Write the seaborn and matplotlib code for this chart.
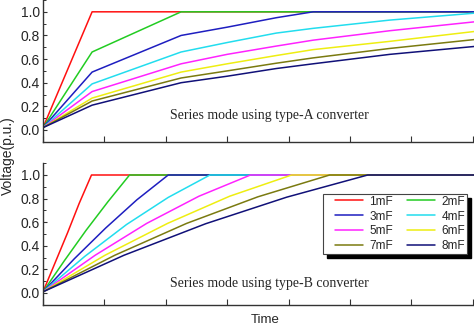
import numpy as np
import pandas as pd
import matplotlib
matplotlib.use("Agg")
import matplotlib.pyplot as plt
from matplotlib.patches import Rectangle
from matplotlib.ticker import MultipleLocator, FormatStrFormatter
import seaborn as sns

# ---------------- data ----------------
labels = ["1mF", "2mF", "3mF", "4mF", "5mF", "6mF", "7mF", "8mF"]
colors = ["#FF1010", "#22CC22", "#1E1EC0", "#22DDEE", "#FF22FF", "#EEEE11", "#7A7A10", "#101078"]

# type-A (top): common time grid
time_a = [0.0, 0.8, 2.25, 3.0, 3.8, 4.4, 5.65, 7.3]
a_1mF = [0.02, 1.00, 1.00, 1.00, 1.00, 1.00, 1.00, 1.00]
a_2mF = [0.02, 0.66, 1.00, 1.00, 1.00, 1.00, 1.00, 1.00]
a_3mF = [0.02, 0.49, 0.80, 0.87, 0.95, 1.00, 1.00, 1.00]
a_4mF = [0.02, 0.39, 0.66, 0.74, 0.82, 0.86, 0.93, 1.00]
a_5mF = [0.02, 0.325, 0.56, 0.64, 0.71, 0.76, 0.84, 0.93]
a_6mF = [0.02, 0.27, 0.49, 0.56, 0.63, 0.68, 0.75, 0.85]
a_7mF = [0.02, 0.245, 0.44, 0.50, 0.565, 0.61, 0.69, 0.78]
a_8mF = [0.02, 0.21, 0.40, 0.455, 0.52, 0.56, 0.64, 0.72]
series_a = [a_1mF, a_2mF, a_3mF, a_4mF, a_5mF, a_6mF, a_7mF, a_8mF]

# type-B (bottom): per-series time points and values
tb_1mF = [0.0, 0.20, 0.40, 0.59, 0.79, 7.3]
tb_2mF = [0.0, 0.35, 0.70, 1.06, 1.41, 7.3]
tb_3mF = [0.0, 0.51, 1.02, 1.53, 2.04, 7.3]
tb_4mF = [0.0, 0.68, 1.36, 2.04, 2.72, 7.3]
tb_5mF = [0.0, 0.85, 1.69, 2.54, 3.38, 7.3]
tb_6mF = [0.0, 1.01, 2.03, 3.04, 4.05, 7.3]
tb_7mF = [0.0, 1.17, 2.34, 3.50, 4.67, 7.3]
tb_8mF = [0.0, 1.32, 2.65, 3.97, 5.29, 7.3]
times_b = [tb_1mF, tb_2mF, tb_3mF, tb_4mF, tb_5mF, tb_6mF, tb_7mF, tb_8mF]

vb_1mF = [0.01, 0.26, 0.51, 0.76, 1.00, 1.00]
vb_2mF = [0.01, 0.275, 0.53, 0.775, 1.00, 1.00]
vb_3mF = [0.01, 0.29, 0.55, 0.79, 1.00, 1.00]
vb_4mF = [0.01, 0.31, 0.58, 0.81, 1.00, 1.00]
vb_5mF = [0.01, 0.32, 0.59, 0.82, 1.00, 1.00]
vb_6mF = [0.01, 0.32, 0.59, 0.82, 1.00, 1.00]
vb_7mF = [0.01, 0.32, 0.59, 0.815, 1.00, 1.00]
vb_8mF = [0.01, 0.32, 0.587, 0.812, 1.00, 1.00]
values_b = [vb_1mF, vb_2mF, vb_3mF, vb_4mF, vb_5mF, vb_6mF, vb_7mF, vb_8mF]

rows_a = []
for lab, vals in zip(labels, series_a):
    for t, v in zip(time_a, vals):
        rows_a.append((lab, t, v))
df_a = pd.DataFrame(rows_a, columns=["C", "t", "v"])

rows_b = []
for lab, ts, vs in zip(labels, times_b, values_b):
    for t, v in zip(ts, vs):
        rows_b.append((lab, t, v))
df_b = pd.DataFrame(rows_b, columns=["C", "t", "v"])

# ---------------- style ----------------
sns.set_style("ticks")
plt.rcParams["font.family"] = ["Liberation Sans", "DejaVu Sans"]
plt.rcParams["axes.edgecolor"] = "#333333"

W, H = 474, 325
fig = plt.figure(figsize=(W / 100, H / 100), dpi=100)

def fx(px):
    return px / W

def fy(py):
    return 1 - py / H

left, right = 43, 488
ax_top = fig.add_axes([fx(left), fy(141.8), fx(right - left), 141.8 / H])
ax_bot = fig.add_axes([fx(left), fy(304.8), fx(right - left), (304.8 - 163.2) / H])

palette = dict(zip(labels, colors))
for ax, df in ((ax_top, df_a), (ax_bot, df_b)):
    sns.lineplot(data=df, x="t", y="v", hue="C", hue_order=labels, palette=palette,
                 estimator=None, sort=False, legend=False, linewidth=1.1, ax=ax)
    ax.set_xlim(0, 7.25)
    ax.set_xlabel("")
    ax.set_ylabel("")
    ax.xaxis.set_major_locator(MultipleLocator(1))
    ax.yaxis.set_major_locator(MultipleLocator(0.2))
    ax.yaxis.set_minor_locator(MultipleLocator(0.1))
    ax.yaxis.set_major_formatter(FormatStrFormatter("%.1f"))
    ax.set_ylim(-0.1, 1.1)
    ax.tick_params(axis="x", which="major", direction="in", length=4.5, width=0.8,
                   labelbottom=False, color="#333333")
    ax.tick_params(axis="y", which="major", direction="in", length=3, width=0.8,
                   labelsize=10, pad=2, color="#333333")
    ax.tick_params(axis="y", which="minor", direction="in", length=2, width=0.7,
                   color="#333333")
    for s in ("top", "right"):
        ax.spines[s].set_visible(False)
    for s in ("left", "bottom"):
        ax.spines[s].set_linewidth(1.0)

ax_top.text((170 - left) / (right - left), (141.8 - 116) / 141.8,
            "Series mode using type-A converter", transform=ax_top.transAxes,
            ha="left", va="center", fontsize=10, family=["Liberation Serif"])
ax_bot.text((170 - left) / (right - left), (304.8 - 283) / 141.6,
            "Series mode using type-B converter", transform=ax_bot.transAxes,
            ha="left", va="center", fontsize=10, family=["Liberation Serif"])

fig.text(fx(7.5), fy(156), "Voltage(p.u.)", rotation=90, ha="center", va="center",
         fontsize=10)
fig.text(fx(265), fy(320), "Time", ha="center", va="center", fontsize=9.5)

# legend box with shadow (drawn in bottom axes, figure coords)
bx0, bx1, by0, by1 = 323, 467, 194, 254
shadow = Rectangle((fx(bx0 + 4), fy(by1 + 4)), fx(bx1 - bx0), (by1 - by0) / H,
                   transform=fig.transFigure, facecolor="black", edgecolor="black",
                   zorder=4, clip_on=False)
box = Rectangle((fx(bx0), fy(by1)), fx(bx1 - bx0), (by1 - by0) / H,
                transform=fig.transFigure, facecolor="white", edgecolor="#444444",
                linewidth=0.8, zorder=4.1, clip_on=False)
ax_bot.add_patch(shadow)
ax_bot.add_patch(box)

lines = ax_bot.get_lines()[:len(labels)]
order = [0, 2, 4, 6, 1, 3, 5, 7]
leg = ax_bot.legend([lines[i] for i in order], [labels[i] for i in order],
                    ncol=2, frameon=False, loc="center",
                    bbox_to_anchor=(fx((bx0 + bx1) / 2 + 5), fy((by0 + by1) / 2)),
                    bbox_transform=fig.transFigure, fontsize=8.5,
                    handlelength=2.4, handletextpad=0.5, columnspacing=1.2,
                    labelspacing=0.25, borderpad=0.2)
leg.set_zorder(5)

fig.savefig("out.png", dpi=100)
